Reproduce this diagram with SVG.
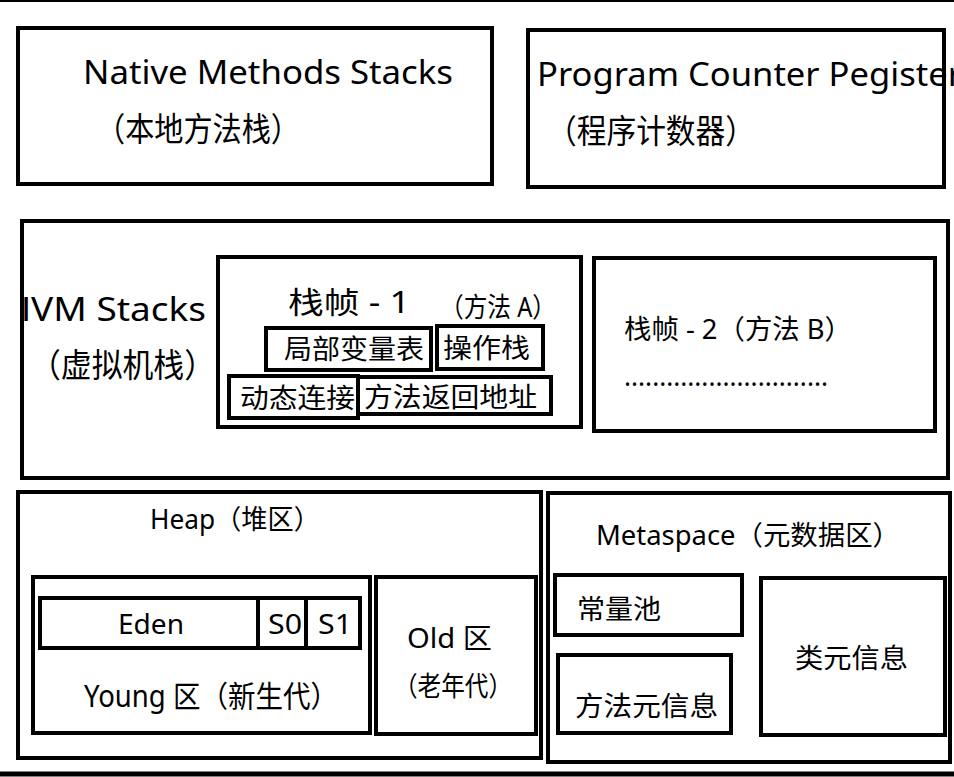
<svg xmlns="http://www.w3.org/2000/svg" width="954" height="777" viewBox="0 0 954 777">
<style>
rect{fill:#fff;stroke:#000;stroke-width:4}
text{font-family:"Noto Sans","Noto Sans CJK SC",sans-serif;fill:#000}
.b{font-size:33px}.m{font-size:30px}.s{font-size:27px}
</style>
<rect x="0" y="0" width="954" height="777" style="stroke:none"/>
<line x1="0" y1="1" x2="954" y2="1" stroke="#000" stroke-width="2"/>
<line x1="0" y1="774" x2="954" y2="774" stroke="#000" stroke-width="5"/>
<g id="native"><rect x="18" y="28" width="474" height="156"/>
<text class="b" x="83" y="84" textLength="370" lengthAdjust="spacingAndGlyphs">Native Methods Stacks</text><text class="b" x="96" y="141" textLength="204" lengthAdjust="spacingAndGlyphs">（本地方法栈）</text></g>
<g id="pc"><rect x="528" y="30" width="416" height="157"/>
<svg x="530" y="30" width="424" height="157"><text class="b" x="7" y="56" textLength="425" lengthAdjust="spacingAndGlyphs">Program Counter Pegister</text><text class="b" x="17" y="113" textLength="208" lengthAdjust="spacingAndGlyphs">（程序计数器）</text></svg></g>
<g id="jvm"><rect x="22" y="221" width="926" height="257"/>
<svg x="24" y="221" width="190" height="100"><text class="b" x="-3" y="100" textLength="185" lengthAdjust="spacingAndGlyphs" dy="-0">JVM Stacks</text></svg>
<text class="b" x="30" y="377" textLength="185" lengthAdjust="spacingAndGlyphs">（虚拟机栈）</text></g>
<g id="frame1"><rect x="218" y="257" width="363" height="170"/>
<text class="m" x="288" y="313" textLength="122" lengthAdjust="spacingAndGlyphs">栈帧 - 1</text><text class="s" x="440" y="317" textLength="116" lengthAdjust="spacingAndGlyphs">（方法 A）</text></g>
<g id="local"><rect x="266" y="328" width="165" height="42"/><text class="s" x="284" y="359" textLength="140" lengthAdjust="spacingAndGlyphs">局部变量表</text></g>
<g id="opstack"><rect x="437" y="326" width="106" height="43"/><text class="s" x="443" y="358" textLength="87" lengthAdjust="spacingAndGlyphs">操作栈</text></g>
<g id="dynlink"><rect x="229" y="376" width="129" height="42"/><text class="s" x="240" y="408" textLength="115" lengthAdjust="spacingAndGlyphs">动态连接</text></g>
<g id="retaddr"><rect x="358" y="377" width="193" height="37"/><text class="s" x="364" y="407" textLength="173" lengthAdjust="spacingAndGlyphs">方法返回地址</text></g>
<g id="frame2"><rect x="594" y="258" width="341" height="173"/>
<text class="s" x="624" y="339" textLength="228" lengthAdjust="spacingAndGlyphs">栈帧 - 2（方法 B）</text><text class="s" x="624" y="386" textLength="204" lengthAdjust="spacingAndGlyphs">.............................</text></g>
<g id="heap"><rect x="18" y="492" width="523" height="266"/><text class="s" x="150" y="529" textLength="170" lengthAdjust="spacingAndGlyphs">Heap（堆区）</text></g>
<g id="young"><rect x="33" y="577" width="337" height="156"/><text class="m" x="84" y="707" textLength="254" lengthAdjust="spacingAndGlyphs">Young 区（新生代）</text></g>
<g id="eden"><rect x="40" y="598" width="218" height="50"/><text class="s" x="118" y="634" textLength="66" lengthAdjust="spacingAndGlyphs">Eden</text></g>
<g id="s0"><rect x="258" y="598" width="48" height="50"/><text class="s" x="268" y="634" textLength="34" lengthAdjust="spacingAndGlyphs">S0</text></g>
<g id="s1"><rect x="306" y="598" width="54" height="50"/><text class="s" x="318" y="634" textLength="34" lengthAdjust="spacingAndGlyphs">S1</text></g>
<g id="old"><rect x="376" y="577" width="160" height="157"/><text class="s" x="407" y="648" textLength="85" lengthAdjust="spacingAndGlyphs">Old 区</text><text class="s" x="394" y="696" textLength="118" lengthAdjust="spacingAndGlyphs">（老年代）</text></g>
<g id="meta"><rect x="548" y="493" width="402" height="269"/><text class="s" x="596" y="545" textLength="304" lengthAdjust="spacingAndGlyphs">Metaspace（元数据区）</text></g>
<g id="const"><rect x="555" y="575" width="187" height="60"/><text class="s" x="577" y="619" textLength="84" lengthAdjust="spacingAndGlyphs">常量池</text></g>
<g id="methodmeta"><rect x="558" y="655" width="173" height="78"/><text class="s" x="575" y="716" textLength="143" lengthAdjust="spacingAndGlyphs">方法元信息</text></g>
<g id="classmeta"><rect x="761" y="578" width="184" height="157"/><text class="s" x="795" y="668" textLength="113" lengthAdjust="spacingAndGlyphs">类元信息</text></g>
<g id="connectors"/>
</svg>
